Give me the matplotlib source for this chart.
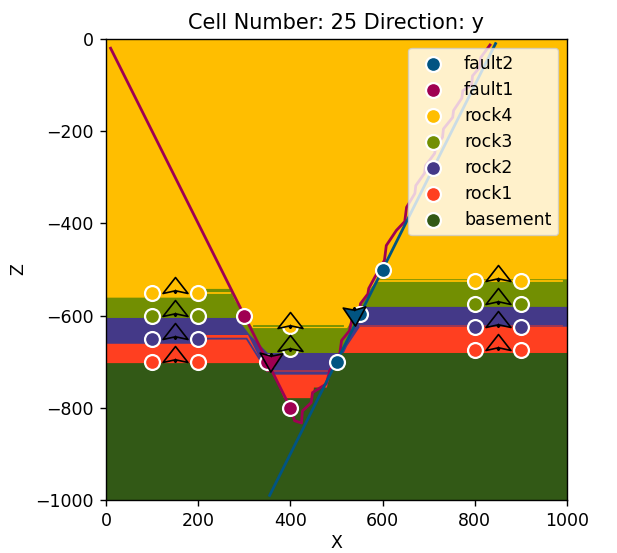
import matplotlib
matplotlib.use("Agg")
import matplotlib.pyplot as plt
from matplotlib.markers import MarkerStyle
from matplotlib.path import Path
from matplotlib.transforms import Affine2D

plt.rcParams["font.size"] = 12.5
plt.rcParams["axes.titlesize"] = 15
plt.rcParams["axes.titlepad"] = 7.5
plt.rcParams["axes.labelpad"] = 3
plt.rcParams["axes.linewidth"] = 1.0
for side in ("xtick", "ytick"):
    plt.rcParams[side + ".major.size"] = 4.4
    plt.rcParams[side + ".major.pad"] = 4.4
    plt.rcParams[side + ".major.width"] = 1.0

W, H = 617, 553

# top surface of each layer
rock3_top_x = [0, 213, 213, 268, 278, 317, 522, 548, 572, 589, 1000]
rock3_top_z = [-560, -560, -541, -541, -565, -626, -626, -582, -541, -520, -520]
rock2_top_x = [0, 283, 310, 350, 507, 535, 556, 1000]
rock2_top_z = [-604, -604, -640, -680, -680, -625, -580, -580]
rock1_top_x = [0, 213, 213, 307, 350, 478, 510, 522, 550, 1000]
rock1_top_z = [-660, -660, -641, -641, -727, -727, -690, -665, -623, -623]
basement_top_x = [0, 340, 362, 385, 447, 450, 478, 485, 510, 1000]
basement_top_z = [-702, -702, -725, -778, -778, -755, -755, -727, -680, -680]

# contour lines that sit a little off the filled blocks
rock4_line_left_x = [213, 268]
rock4_line_left_z = [-550, -550]
rock4_line_mid_x = [322, 515]
rock4_line_mid_z = [-622, -622]
rock4_line_right_x = [590, 990]
rock4_line_right_z = [-526, -526]
rock2_line_left_x = [213, 305, 350]
rock2_line_left_z = [-650, -650, -721]
rock2_line_mid_x = [350, 480]
rock2_line_mid_z = [-721, -721]
rock2_line_right_x = [552, 990]
rock2_line_right_z = [-623, -623]

fault1_x = [10, 400, 409, 424, 426, 445, 448, 478, 485, 507, 511, 528, 533, 550, 552, 568,
            570, 583, 604, 608, 630, 648, 652, 670, 672, 691, 693, 713, 715, 730, 732, 752,
            754, 772, 774, 793, 795, 811, 813, 833]
fault1_z = [-20, -800, -828, -833, -807, -789, -767, -748, -720, -683, -654, -633, -611,
            -590, -574, -553, -541, -517, -480, -448, -415, -396, -365, -335, -318, -291,
            -275, -248, -235, -213, -195, -170, -155, -128, -112, -100, -80, -61, -40, -13]
fault2_x = [355, 845]
fault2_z = [-990, -10]

# surface points, legend order
layer_names = ["fault2", "fault1", "rock4", "rock3", "rock2", "rock1", "basement"]
layer_colors = ["#015482", "#9f0052", "#ffbe00", "#728f02", "#443988", "#ff3f20", "#325916"]
points_x = [
    [600, 550, 500],
    [300, 350, 400],
    [100, 200, 800, 900, 400],
    [100, 200, 800, 900, 400],
    [100, 200, 800, 900],
    [100, 200, 800, 900],
    [],
]
points_z = [
    [-500, -597, -700],
    [-600, -700, -800],
    [-550, -550, -525, -525, -622],
    [-600, -600, -575, -575, -672],
    [-650, -650, -625, -625],
    [-700, -700, -675, -675],
    [],
]

# orientations: anchor at the middle of the arrow's base
orient_rock_x = [150, 150, 150, 150, 850, 850, 850, 850, 400, 400]
orient_rock_z = [-550, -600, -650, -700, -525, -575, -625, -675, -626, -676]
orient_rock_color = ["rock4", "rock3", "rock2", "rock1", "rock4", "rock3", "rock2", "rock1", "rock4", "rock3"]
orient_fault_x = [357, 539]
orient_fault_z = [-681, -582]
orient_fault_color = ["fault1", "fault2"]
orient_fault_angle = [178, 183]


def arrow_marker(half_width, height, angle=0):
    verts = [(-half_width, 0), (0, height), (half_width, 0), (1.6, 2.4), (0.3, 0.4),
             (0, 3.2), (-0.3, 0.4), (-1.6, 2.4), (-half_width, 0)]
    path = Path(verts, closed=True)
    return MarkerStyle(path, transform=Affine2D().rotate_deg(angle))


color_of = dict(zip(layer_names, layer_colors))

fig = plt.figure(figsize=(W / 100, H / 100), dpi=100)
ax = fig.add_axes([106 / W, 1 - 500 / H, 461 / W, 461 / H])

# layers painted from the top down, each one to the bottom of the section
ax.fill_between([0, 1000], -1000, 0, color=color_of["rock4"], lw=0)
ax.fill_between(rock3_top_x, -1000, rock3_top_z, color=color_of["rock3"], lw=0)
ax.fill_between(rock2_top_x, -1000, rock2_top_z, color=color_of["rock2"], lw=0)
ax.fill_between(rock1_top_x, -1000, rock1_top_z, color=color_of["rock1"], lw=0)
ax.fill_between(basement_top_x, -1000, basement_top_z, color=color_of["basement"], lw=0)

ax.plot(rock4_line_left_x, rock4_line_left_z, color=color_of["rock4"], lw=1.3)
ax.plot(rock4_line_mid_x, rock4_line_mid_z, color=color_of["rock3"], lw=1.3)
ax.plot(rock4_line_right_x, rock4_line_right_z, color=color_of["rock4"], lw=1.3)
ax.plot(rock2_line_left_x, rock2_line_left_z, color=color_of["rock2"], lw=1.3)
ax.plot(rock2_line_mid_x, rock2_line_mid_z, color="#a5364f", lw=1.3)
ax.plot(rock2_line_right_x, rock2_line_right_z, color="#a5364f", lw=1.3)

ax.plot(fault1_x, fault1_z, color=color_of["fault1"], lw=2)
ax.plot(fault2_x, fault2_z, color=color_of["fault2"], lw=2)

for name, color, xs, zs in zip(layer_names, layer_colors, points_x, points_z):
    ax.scatter(xs, zs, s=115, color=color, edgecolors="white", linewidths=1.6, label=name, zorder=3)

for x, z, name in zip(orient_rock_x, orient_rock_z, orient_rock_color):
    ax.scatter(x, z, s=530, marker=arrow_marker(12.5, 16), color=color_of[name],
               edgecolors="black", linewidths=1.2, zorder=4)
for x, z, name, angle in zip(orient_fault_x, orient_fault_z, orient_fault_color, orient_fault_angle):
    ax.scatter(x, z, s=720, marker=arrow_marker(11.5, 19, angle), color=color_of[name],
               edgecolors="black", linewidths=1.2, zorder=4)

ax.set_xlim(0, 1000)
ax.set_ylim(-1000, 0)
ax.set_xticks([0, 200, 400, 600, 800, 1000])
ax.set_yticks([0, -200, -400, -600, -800, -1000])
ax.set_xlabel("X")
ax.set_ylabel("Z", labelpad=6)
ax.set_title("Cell Number: 25 Direction: y")
ax.legend(loc="upper right", fontsize=12.5, labelspacing=0.46)

fig.savefig("out.png", dpi=100)
